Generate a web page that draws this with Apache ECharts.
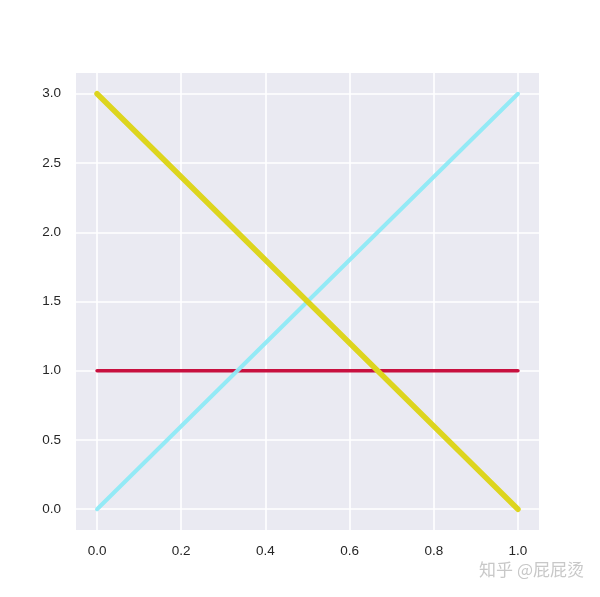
<!DOCTYPE html>
<html><head><meta charset="utf-8">
<script src="https://cdn.jsdelivr.net/npm/echarts@6/dist/echarts.min.js"></script>
<style>html,body{margin:0;padding:0;background:#fff}#c{width:600px;height:597px}</style>
</head><body><div id="c"></div>
<script>
const xValues = [0, 1];
const yellowValues = [3, 0];
const cyanValues = [0, 3];
const redValues = [1, 1];
const xTicks = [0, 0.2, 0.4, 0.6, 0.8, 1.0];
const yTicks = [0, 0.5, 1, 1.5, 2, 2.5, 3];

const chart = echarts.init(document.getElementById('c'));
const mk = (vals) => xValues.map((x, i) => [x, vals[i]]);
const labelFont = {color: '#262626', fontSize: 13.5, fontFamily: 'Liberation Sans, Arial, sans-serif'};
chart.setOption({
  animation: false,
  grid: {left: 76, right: 61, top: 73, bottom: 67, show: true, backgroundColor: '#EAEAF2', borderWidth: 0},
  xAxis: {
    type: 'value', min: -0.05, max: 1.05,
    axisLine: {show: false},
    axisTick: {show: false, customValues: xTicks},
    splitLine: {show: true, lineStyle: {color: '#ffffff', width: 1.6}},
    axisLabel: Object.assign({margin: 14, customValues: xTicks, formatter: v => v.toFixed(1)}, labelFont)
  },
  yAxis: {
    type: 'value', min: -0.15, max: 3.15,
    axisLine: {show: false},
    axisTick: {show: false, customValues: yTicks},
    splitLine: {show: true, lineStyle: {color: '#ffffff', width: 1.6}},
    axisLabel: Object.assign({margin: 15, customValues: yTicks, formatter: v => v.toFixed(1)}, labelFont)
  },
  series: [
    {type: 'line', data: mk(redValues), symbol: 'none', lineStyle: {color: '#C8103F', width: 3.5, cap: 'round'}, z: 3},
    {type: 'line', data: mk(cyanValues), symbol: 'none', lineStyle: {color: '#8EEAF5', width: 4, cap: 'round', opacity: 0.95}, z: 4},
    {type: 'line', data: mk(yellowValues), symbol: 'none', lineStyle: {color: '#DDD51E', width: 5.5, cap: 'round'}, z: 5}
  ],
  graphic: [{type: 'text', right: 16, top: 561, style: {text: '知乎 @屁屁烫', fill: '#c8c8c8', fontSize: 17, fontFamily: 'Noto Sans CJK SC'}}]
});
</script></body></html>
